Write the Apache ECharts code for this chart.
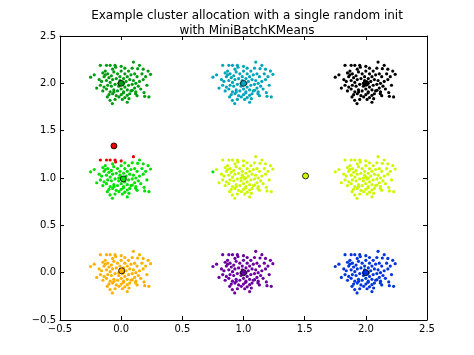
<!DOCTYPE html>
<html><head><meta charset="utf-8">
<script src="https://cdn.jsdelivr.net/npm/echarts@6/dist/echarts.min.js"></script>
<style>html,body{margin:0;padding:0;background:#fff}#c{width:474px;height:355px}</style>
</head><body><div id="c"></div>
<script>
// Shared noise offsets (same noise around every grid centre)
const noise = [
[-0.17,0.19],[-0.12,0.19],[-0.09,0.19],[-0.05,0.19],[0.00,0.18],[0.10,0.225],[0.15,0.19],[0.135,0.155],[0.18,0.15],[0.22,0.13],[0.24,0.095],[-0.25,0.065],[0.18,0.04],[-0.045,0.17],
[-0.113,-0.144],[-0.091,-0.179],[-0.072,-0.214],[-0.059,-0.091],[-0.018,-0.144],[0.018,-0.102],[0.05,-0.127],[0.064,-0.162],[0.091,-0.074],[0.118,-0.109],[0.187,-0.098],[0.192,-0.137],[0.227,-0.144],[0.01,-0.17],
[-0.15,0.11],[-0.13,0.09],[-0.11,0.1],[-0.14,0.07],[-0.1,0.06],[-0.08,0.08],[-0.06,0.12],[-0.03,0.1],[0.0,0.13],[0.03,0.1],[0.06,0.13],[0.08,0.09],[0.11,0.1],[0.13,0.07],
[-0.18,0.04],[-0.16,0.02],[-0.12,0.03],[-0.09,0.01],[-0.07,0.04],[-0.04,0.05],[-0.01,0.03],[0.02,0.05],[0.04,0.02],[0.07,0.04],[0.1,0.03],[0.12,0.0],[0.15,0.02],
[-0.17,-0.02],[-0.14,-0.04],[-0.11,-0.02],[-0.08,-0.03],[-0.05,-0.01],[-0.02,-0.03],[0.01,-0.01],[0.03,-0.04],[0.06,-0.02],[0.09,-0.01],[0.11,-0.05],[0.14,-0.03],[0.16,-0.06],
[-0.15,-0.08],[-0.12,-0.06],[-0.09,-0.09],[-0.06,-0.07],[-0.03,-0.08],[0.0,-0.06],[0.02,-0.09],[0.05,-0.07],[0.08,-0.08],[0.12,-0.09],
[-0.1,-0.12],[-0.07,-0.11],[-0.04,-0.13],[0.0,-0.12],[0.03,-0.15],[0.07,-0.11],
[-0.02,0.0],[0.0,0.01],[0.02,0.0],[-0.01,0.07],[0.05,0.07],[-0.13,0.13],[-0.07,0.15],[0.03,0.16],[0.09,0.16],
[0.2,0.07],[0.21,-0.02],[-0.2,-0.05],[0.17,0.1],[-0.22,0.09],[0.13,-0.13],[-0.05,-0.17],[0.05,-0.2]
];
// true grid centres
const gridCenters = [[0,0],[0,1],[0,2],[1,0],[1,1],[1,2],[2,0],[2,1],[2,2]];
// label given to each grid blob
const blobLabel = [7,5,4,1,6,3,2,6,0];
// exceptions: [blob index, noise index, label]
const exceptions = [[1,0,8],[1,1,8],[1,2,8],[1,3,8],[1,4,8],[1,5,8],[1,13,8],[4,11,5]];
// estimated cluster centres found by MiniBatchKMeans (per label)
const centroids = [[2,2],[1,0],[2,0],[1,2],[0,2],[0.018,0.99],[1.507,1.022],[0.004,0.02],[-0.059,1.339]];
// nipy_spectral colours for 9 labels
const colors = ['#000000','#6a009d','#0035dd','#00a4bb','#009b0f','#00e100','#ccf900','#ffb000','#e50000'];
const ticks = [-0.5,0.0,0.5,1.0,1.5,2.0,2.5];
const title1 = 'Example cluster allocation with a single random init';
const title2 = 'with MiniBatchKMeans';

const pts = colors.map(()=>[]);
gridCenters.forEach((c,b)=>{
  noise.forEach((n,i)=>{
    let lab = blobLabel[b];
    exceptions.forEach(e=>{ if(e[0]===b && e[1]===i) lab = e[2]; });
    pts[lab].push([c[0]+n[0], c[1]+n[1]]);
  });
});
const series = [];
colors.forEach((col,k)=>{
  series.push({type:'scatter', data:pts[k], symbolSize:3.2, itemStyle:{color:col, opacity:1}, z:2+2*k, silent:true, animation:false});
  series.push({type:'scatter', data:[centroids[k]], symbolSize:6, itemStyle:{color:col, borderColor:'#000', borderWidth:0.8, opacity:1}, z:3+2*k, silent:true, animation:false});
});
const fmt = v => (Math.round(v*10)/10).toFixed(1).replace('-', '\u2212');
const axisCommon = {min:ticks[0], max:ticks[ticks.length-1], interval:0.5,
  axisLine:{show:true, onZero:false, lineStyle:{color:'#000', width:1}},
  axisTick:{show:true, inside:true, length:4, lineStyle:{color:'#000'}},
  splitLine:{show:false}};
const chart = echarts.init(document.getElementById('c'), null, {renderer:'canvas'});
chart.setOption({
  animation:false,
  backgroundColor:'#fff',
  title:{text:title1+'\n'+title2, left:242, textAlign:'center', top:3,
    textStyle:{fontFamily:'DejaVu Sans', fontSize:12, fontWeight:'normal', color:'#000', lineHeight:15}},
  grid:{left:60, right:47, top:36, bottom:35},
  xAxis:[
    Object.assign({}, axisCommon, {type:'value', position:'bottom',
      axisLabel:{formatter:fmt, fontFamily:'DejaVu Sans', fontSize:10, color:'#000', margin:4, showMinLabel:true, showMaxLabel:true, hideOverlap:false}}),
    Object.assign({}, axisCommon, {type:'value', position:'top', axisLabel:{show:false}})
  ],
  yAxis:[
    Object.assign({}, axisCommon, {type:'value', position:'left',
      axisLabel:{formatter:fmt, fontFamily:'DejaVu Sans', fontSize:10, color:'#000', margin:4, showMinLabel:true, showMaxLabel:true, hideOverlap:false}}),
    Object.assign({}, axisCommon, {type:'value', position:'right', axisLabel:{show:false}})
  ],
  series: series
});
</script>
</body></html>
